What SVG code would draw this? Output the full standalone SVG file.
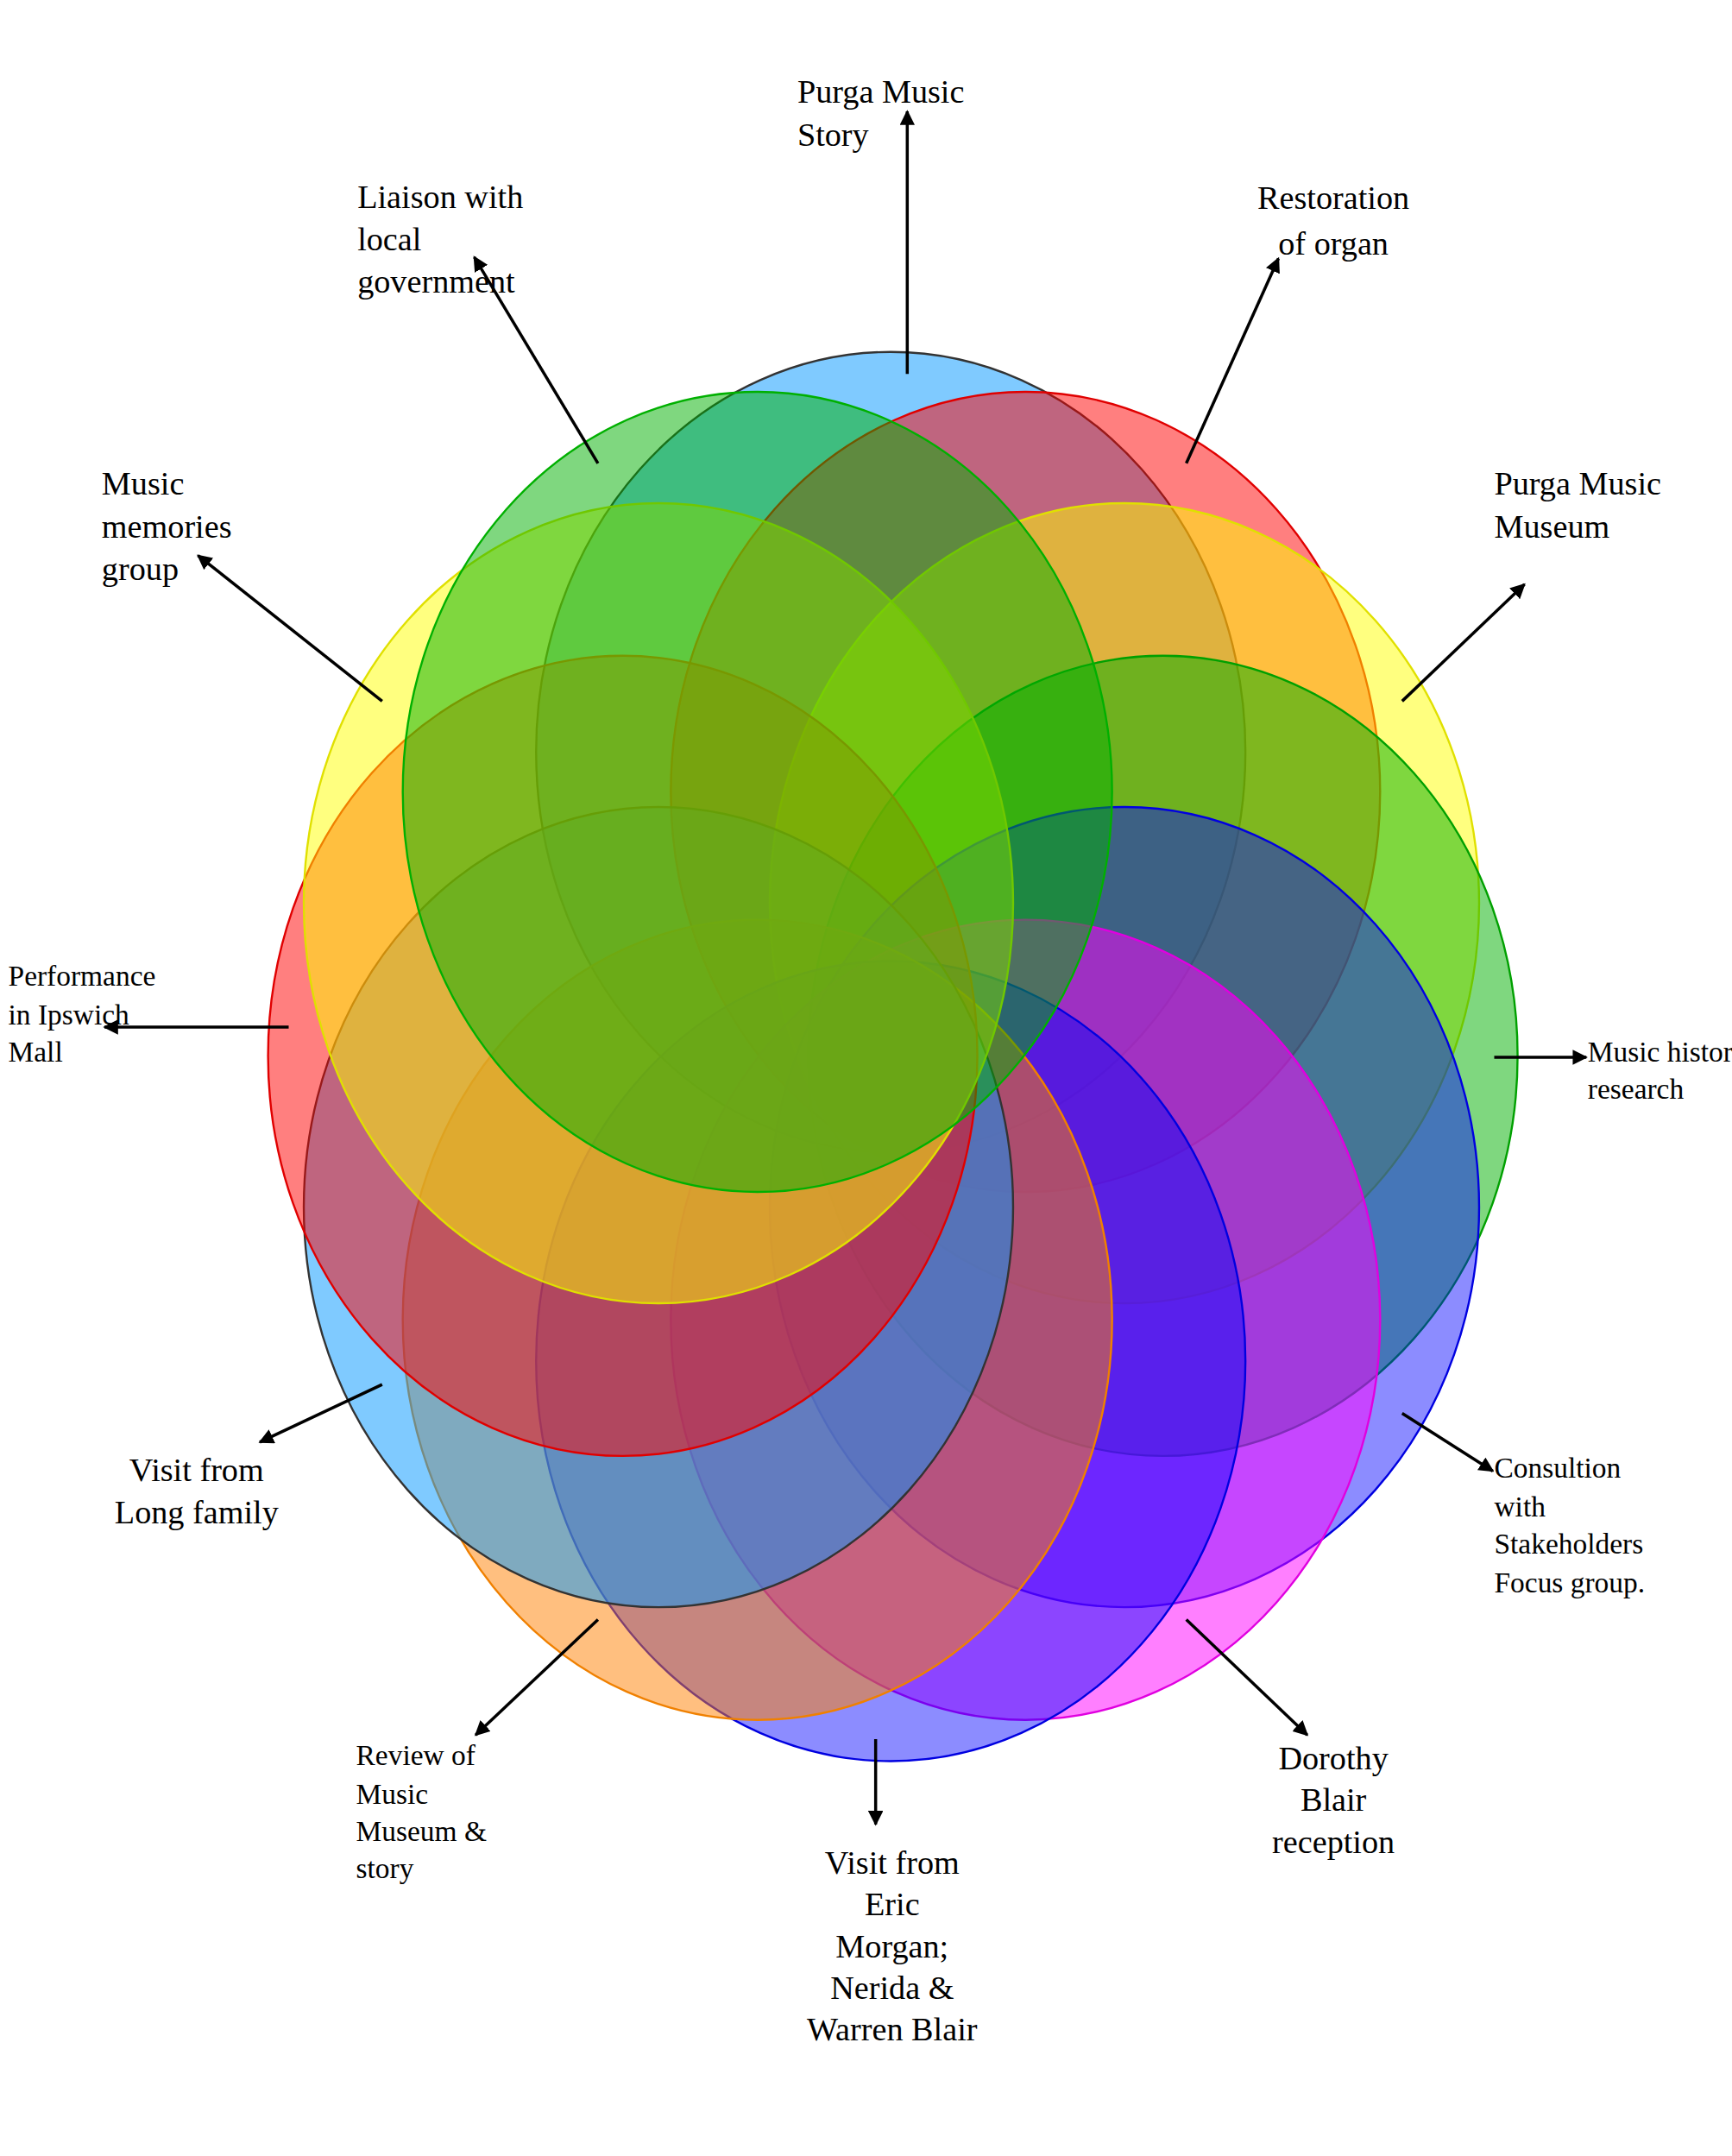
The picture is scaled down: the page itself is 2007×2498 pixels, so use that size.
<svg xmlns="http://www.w3.org/2000/svg" width="2007" height="2498" viewBox="0 0 2007 2498">
<defs>
<marker id="ah" viewBox="0 0 10 10" refX="9" refY="5" markerWidth="5" markerHeight="5" orient="auto"><path d="M0,0 L10,5 L0,10 z" fill="#000"/></marker>
<style>
.e{stroke-width:1.5}
.t{font-family:"Liberation Serif",serif;font-size:24px;fill:#000}
.s{font-size:21px}
.c{stroke:#000;stroke-width:2.2;fill:none;marker-end:url(#ah)}
</style>
</defs>
<rect width="2007" height="2498" fill="#fff"/>
<g transform="scale(1.5929)">
<g id="circles">
<ellipse class="e" cx="648" cy="547" rx="258" ry="291" fill="#0096ff" fill-opacity="0.5" stroke="#333"/>
<ellipse class="e" cx="746" cy="576" rx="258" ry="291" fill="#ff0000" fill-opacity="0.5" stroke="#e00000"/>
<ellipse class="e" cx="818" cy="657" rx="258" ry="291" fill="#ffff00" fill-opacity="0.5" stroke="#e0e000"/>
<ellipse class="e" cx="846" cy="768" rx="258" ry="291" fill="#00b000" fill-opacity="0.5" stroke="#00a000"/>
<ellipse class="e" cx="818" cy="878" rx="258" ry="291" fill="#0000ff" fill-opacity="0.45" stroke="#0000e0"/>
<ellipse class="e" cx="746" cy="960" rx="258" ry="291" fill="#ff00ff" fill-opacity="0.5" stroke="#e000e0"/>
<ellipse class="e" cx="648" cy="990" rx="258" ry="291" fill="#0000ff" fill-opacity="0.45" stroke="#0000e0"/>
<ellipse class="e" cx="551" cy="960" rx="258" ry="291" fill="#ff8000" fill-opacity="0.5" stroke="#f08000"/>
<ellipse class="e" cx="479" cy="878" rx="258" ry="291" fill="#0096ff" fill-opacity="0.5" stroke="#333"/>
<ellipse class="e" cx="453" cy="768" rx="258" ry="291" fill="#ff0000" fill-opacity="0.5" stroke="#e00000"/>
<ellipse class="e" cx="479" cy="657" rx="258" ry="291" fill="#ffff00" fill-opacity="0.5" stroke="#e0e000"/>
<ellipse class="e" cx="551" cy="576" rx="258" ry="291" fill="#00b000" fill-opacity="0.5" stroke="#00b000"/>
</g>
<g id="connectors">
<line class="c" x1="660" y1="272" x2="660" y2="81"/>
<line class="c" x1="863" y1="337" x2="930" y2="188"/>
<line class="c" x1="435" y1="337" x2="345" y2="187"/>
<line class="c" x1="1020" y1="510" x2="1109" y2="425"/>
<line class="c" x1="278" y1="510" x2="144" y2="404"/>
<line class="c" x1="210" y1="747" x2="76" y2="747"/>
<line class="c" x1="1087" y1="769" x2="1154" y2="769"/>
<line class="c" x1="278" y1="1007" x2="189" y2="1049"/>
<line class="c" x1="1020" y1="1028" x2="1086" y2="1070"/>
<line class="c" x1="435" y1="1178" x2="346" y2="1262"/>
<line class="c" x1="637" y1="1265" x2="637" y2="1327"/>
<line class="c" x1="863" y1="1178" x2="951" y2="1262"/>
</g>
<g id="labels">
<text class="t" x="580"><tspan x="580" y="75">Purga Music</tspan><tspan x="580" y="106">Story</tspan></text>
<text class="t" text-anchor="middle"><tspan x="970" y="152">Restoration</tspan><tspan x="970" y="185">of organ</tspan></text>
<text class="t"><tspan x="260" y="151">Liaison with</tspan><tspan x="260" y="182">local</tspan><tspan x="260" y="213">government</tspan></text>
<text class="t"><tspan x="1087" y="360">Purga Music</tspan><tspan x="1087" y="391">Museum</tspan></text>
<text class="t"><tspan x="74" y="360">Music</tspan><tspan x="74" y="391">memories</tspan><tspan x="74" y="422">group</tspan></text>
<text class="t s"><tspan x="6" y="717">Performance</tspan><tspan x="6" y="745">in Ipswich</tspan><tspan x="6" y="772">Mall</tspan></text>
<text class="t s"><tspan x="1155" y="772">Music history</tspan><tspan x="1155" y="799">research</tspan></text>
<text class="t" text-anchor="middle"><tspan x="143" y="1077">Visit from</tspan><tspan x="143" y="1108">Long family</tspan></text>
<text class="t s"><tspan x="1087" y="1075">Consultion</tspan><tspan x="1087" y="1103">with</tspan><tspan x="1087" y="1130">Stakeholders</tspan><tspan x="1087" y="1158">Focus group.</tspan></text>
<text class="t s"><tspan x="259" y="1284">Review of</tspan><tspan x="259" y="1312">Music</tspan><tspan x="259" y="1339">Museum &amp;</tspan><tspan x="259" y="1366">story</tspan></text>
<text class="t" text-anchor="middle"><tspan x="649" y="1363">Visit from</tspan><tspan x="649" y="1393">Eric</tspan><tspan x="649" y="1424">Morgan;</tspan><tspan x="649" y="1454">Nerida &amp;</tspan><tspan x="649" y="1484">Warren Blair</tspan></text>
<text class="t" text-anchor="middle"><tspan x="970" y="1287">Dorothy</tspan><tspan x="970" y="1317">Blair</tspan><tspan x="970" y="1348">reception</tspan></text>
</g>
</g>
</svg>
